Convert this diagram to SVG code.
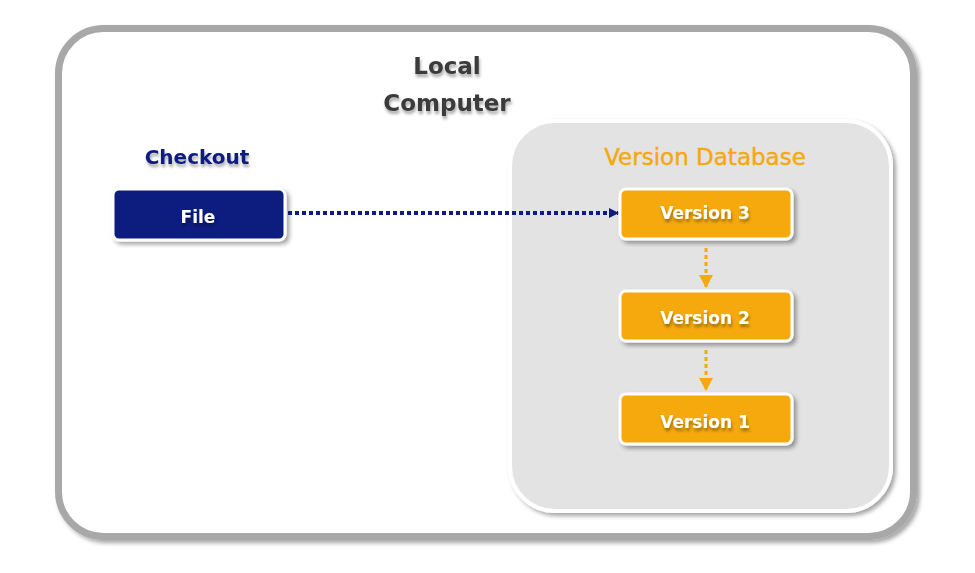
<svg xmlns="http://www.w3.org/2000/svg" width="975" height="573" viewBox="0 0 975 573">
<defs>
<filter id="sh" x="-10%" y="-10%" width="125%" height="125%"><feDropShadow dx="3" dy="3" stdDeviation="2" flood-color="#000" flood-opacity="0.35"/></filter>
<filter id="tsh" x="-10%" y="-20%" width="130%" height="160%"><feDropShadow dx="1" dy="3" stdDeviation="1.5" flood-color="#000" flood-opacity="0.35"/></filter>
<marker id="navyArrow" markerWidth="10" markerHeight="10" refX="9" refY="5" orient="auto" markerUnits="userSpaceOnUse"><path d="M0,0 L10,5 L0,10 z" fill="#0f1b7f"/></marker>
<marker id="orangeArrow" markerWidth="14" markerHeight="14" refX="13" refY="7" orient="auto" markerUnits="userSpaceOnUse"><path d="M0,0 L13,7 L0,14 z" fill="#f5a90a"/></marker>
</defs>
<style>
.t{font-family:"DejaVu Sans","Liberation Sans",sans-serif;font-weight:bold;text-anchor:middle}
.ver{fill:#f5a90a;stroke:#fff;stroke-width:3}
.vt{fill:#fff;font-size:17px}
</style>
<rect width="975" height="573" fill="#fff"/>
<g id="local-computer">
<rect x="58.5" y="28.5" width="855" height="508" rx="45" fill="#fff" stroke="#a8a8a8" stroke-width="7" filter="url(#sh)"/>
<text class="t" x="447" y="74" font-size="23" fill="#3a3a3a" filter="url(#tsh)">Local</text>
<text class="t" x="447" y="111" font-size="23" fill="#3a3a3a" filter="url(#tsh)">Computer</text>
</g>
<g id="version-database">
<rect x="510" y="121" width="381" height="390" rx="45" fill="#e3e3e3" stroke="#fff" stroke-width="4" filter="url(#sh)"/>
<text class="t" x="705" y="165" font-size="23" style="font-weight:normal" fill="#f5a90a" stroke="#f5a90a" stroke-width="0.4">Version Database</text>
</g>
<g id="checkout">
<text class="t" x="197" y="164" font-size="20" fill="#0f1b7f" filter="url(#tsh)">Checkout</text>
</g>
<g id="file">
<rect x="113" y="189" width="172" height="51" rx="6" fill="#0f1b7f" stroke="#fff" stroke-width="3" filter="url(#sh)"/>
<text class="t vt" x="198" y="223" filter="url(#tsh)">File</text>
</g>
<g id="version3">
<rect class="ver" x="620" y="189" width="172" height="50" rx="6" filter="url(#sh)"/>
<text class="t vt" x="705" y="219" filter="url(#tsh)">Version 3</text>
</g>
<g id="version2">
<rect class="ver" x="620" y="291" width="172" height="50" rx="6" filter="url(#sh)"/>
<text class="t vt" x="705" y="324" filter="url(#tsh)">Version 2</text>
</g>
<g id="version1">
<rect class="ver" x="620" y="394" width="172" height="50" rx="6" filter="url(#sh)"/>
<text class="t vt" x="705" y="428" filter="url(#tsh)">Version 1</text>
</g>
<g id="connectors">
<line x1="288" y1="213" x2="618" y2="213" stroke="#0f1b7f" stroke-width="4" stroke-dasharray="4 3" marker-end="url(#navyArrow)"/>
<line x1="706" y1="248" x2="706" y2="288" stroke="#f5a90a" stroke-width="3" stroke-dasharray="4 3" marker-end="url(#orangeArrow)"/>
<line x1="706" y1="350" x2="706" y2="391" stroke="#f5a90a" stroke-width="3" stroke-dasharray="4 3" marker-end="url(#orangeArrow)"/>
</g>
</svg>
